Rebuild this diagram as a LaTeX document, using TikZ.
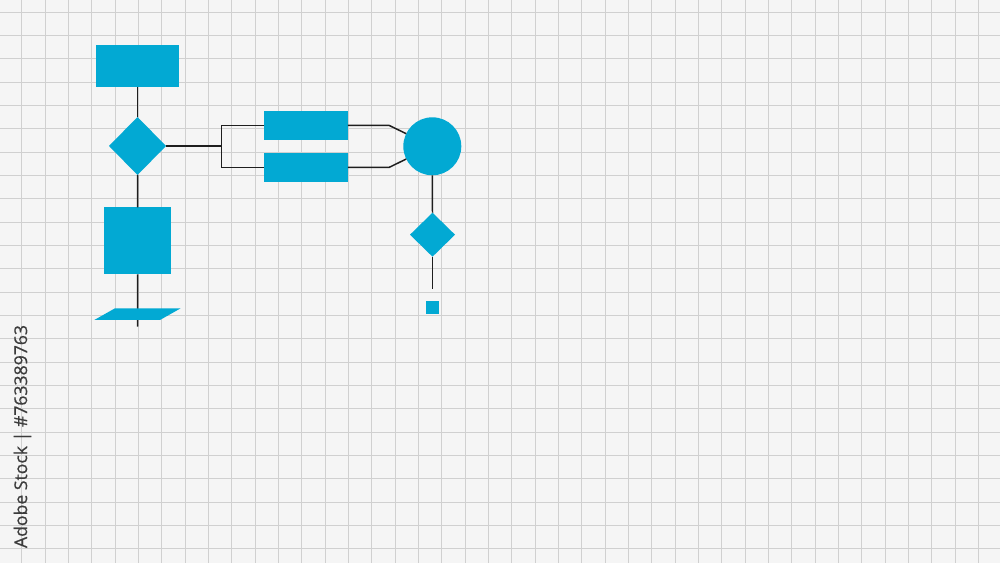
\documentclass[tikz,border=0pt]{standalone}
\usepackage{fontspec}
\usepackage{graphicx}
\newfontfamily\wmfont[FakeBold=0.6]{Open Sans}
\usetikzlibrary{shapes.geometric}
\definecolor{fcblue}{RGB}{2,169,211}
\definecolor{bgpaper}{RGB}{245,245,245}
\definecolor{gridgray}{RGB}{208,208,208}
\definecolor{linedark}{RGB}{30,30,30}
\definecolor{wmgray}{RGB}{60,60,60}
\tikzset{
  gridline/.style={draw=gridgray, line width=0.55pt},
  conn/.style={draw=linedark, line width=0.85pt},
  blueshape/.style={fill=fcblue, draw=none, inner sep=0pt, outer sep=0pt},
  rectbox/.style={blueshape, rectangle},
  diabox/.style={blueshape, diamond},
  circbox/.style={blueshape, circle},
}
\begin{document}
\begin{tikzpicture}[x=0.02cm, y=-0.02cm]
  % background
  \fill[bgpaper] (0,0) rectangle (1000,563);
  \useasboundingbox (0,0) rectangle (1000,563);
  % grid
  \foreach \i in {0,...,42} {
    \draw[gridline] ({21.67+\i*23.333},0) -- ({21.67+\i*23.333},563);
  }
  \foreach \j in {0,...,23} {
    \draw[gridline] (0,{12+\j*23.333}) -- (1000,{12+\j*23.333});
  }
  % nodes
  \node[rectbox, minimum width=16.6mm, minimum height=8.4mm] (r1) at (137.5,66) {};
  \node[diabox, minimum width=11.4mm, minimum height=11.6mm] (d1) at (137.5,146) {};
  \node[rectbox, minimum width=13.4mm, minimum height=13.4mm] (s1) at (137.7,240.8) {};
  \node[rectbox, minimum width=16.8mm, minimum height=5.8mm] (r2) at (306,125.5) {};
  \node[rectbox, minimum width=16.8mm, minimum height=5.8mm] (r3) at (306,167.3) {};
  \node[circbox, minimum size=11.6mm] (c1) at (432.3,146.3) {};
  \node[diabox, minimum width=9mm, minimum height=8.8mm] (d2) at (432.5,234.7) {};
  \node[rectbox, minimum width=2.6mm, minimum height=2.6mm] (s2) at (432.5,307.3) {};
  % helper coordinates
  \coordinate (j1) at (221.7,146);
  \coordinate (k1) at (389.3,125.5);
  \coordinate (k2) at (389.3,167.3);
  \coordinate (e1) at (137.5,326.7);
  \coordinate (e2) at (432.5,289);
  % connectors
  \draw[conn] (r1.south) -- (d1.north);
  \draw[conn] (d1.south) -- (s1.north);
  \draw[conn] (s1.south) -- (e1);
  \draw[conn] (d1.east) -- (j1);
  \draw[conn] (r2.west) -| (j1);
  \draw[conn] (r3.west) -| (j1);
  \draw[conn] (r2.east) -- (k1) -- (c1);
  \draw[conn] (r3.east) -- (k2) -- (c1);
  \draw[conn] (c1.south) -- (d2.north);
  \draw[conn] (d2.south) -- (e2);
  % parallelogram (drawn over the line)
  \fill[fcblue] (115,308.3) -- (180.7,308.3) -- (160,320) -- (94.3,320) -- cycle;
  \coordinate (p1) at (137.5,314.2);
  % side label
  \node[text=wmgray, rotate=90, inner sep=0pt] (wm) at (22.5,436.5)
    {\wmfont\resizebox{126.9pt}{!}{Adobe Stock | \#763389763}};
\end{tikzpicture}
\end{document}
